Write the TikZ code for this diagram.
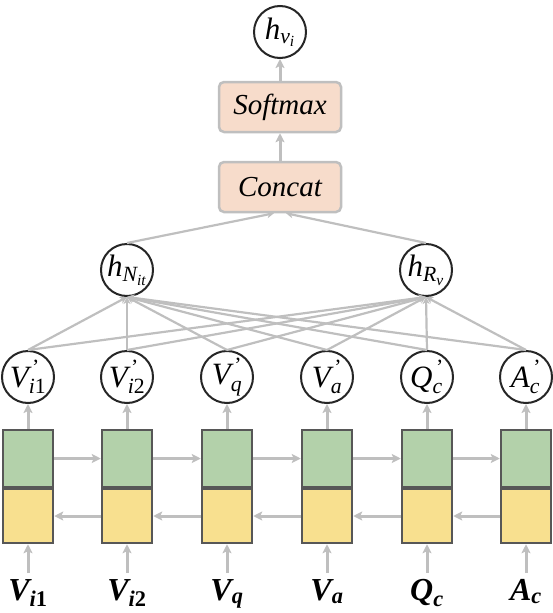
\documentclass[tikz,border=0pt]{standalone}
\usepackage{amsmath}
\usepackage{fontspec}
\setmainfont{Liberation Serif}
\usetikzlibrary{arrows.meta}
\definecolor{lgray}{HTML}{BFBFBF}
\definecolor{dgray}{HTML}{575757}
\definecolor{gfill}{HTML}{B3D1AA}
\definecolor{yfill}{HTML}{F8E08F}
\definecolor{pfill}{HTML}{F7DCCB}
\newcommand{\itt}[1]{\text{\itshape #1}}
\newcommand{\bi}[1]{\text{\bfseries\itshape #1}}
\newcommand{\bu}[1]{\text{\bfseries #1}}
\newcommand{\pr}{^{\,\text{'}}}
\begin{document}
\begin{tikzpicture}[x=1pt,y=-1pt,
  circ/.style={circle,draw=black!85,line width=2pt,minimum size=52pt,inner sep=0pt,fill=white,
    font=\fontsize{31}{33}\selectfont},
  gbox/.style={draw=dgray,line width=2.5pt,fill=gfill,minimum width=50pt,minimum height=57pt,inner sep=0pt},
  ybox/.style={draw=dgray,line width=2.5pt,fill=yfill,minimum width=50pt,minimum height=54pt,inner sep=0pt},
  opbox/.style={draw=lgray,line width=2.5pt,fill=pfill,rounded corners=5pt,minimum width=122pt,minimum height=50pt,inner sep=0pt,
    font=\fontsize{29}{31}\selectfont\itshape},
  arr/.style={draw=lgray,line width=3pt,-{Stealth[length=9pt,width=9pt,inset=2pt]}},
  thin arr/.style={draw=lgray,line width=2.2pt,-{Stealth[length=7pt,width=7pt,inset=2pt]}},
  lab/.style={font=\fontsize{32}{34}\selectfont,inner sep=0pt,anchor=base}
]
\useasboundingbox (0,0) rectangle (553,613);
% top
\node[circ] (o) at (280,32) {$\itt{h}_{\itt{v}_{\itt{i}}}$};
\node[opbox] (sm) at (280,107) {Softmax};
\node[opbox] (cc) at (280,187) {Concat};
\node[circ] (hN) at (127,270) {$\itt{h}_{\itt{N}_{\itt{it}}}$};
\node[circ] (hR) at (426,270) {$\itt{h}_{\itt{R}_{\itt{v}}}$};
% second layer circles
\node[circ] (c1) at (28,377) {$\itt{V}\pr_{\itt{i}\text{1}}$};
\node[circ] (c2) at (127,377) {$\itt{V}\pr_{\itt{i}\text{2}}$};
\node[circ] (c3) at (227,377) {$\itt{V}\pr_{\itt{q}}$};
\node[circ] (c4) at (327,377) {$\itt{V}\pr_{\itt{a}}$};
\node[circ] (c5) at (427,377) {$\itt{Q}\pr_{\itt{c}}$};
\node[circ] (c6) at (526,377) {$\itt{A}\pr_{\itt{c}}$};
% LSTM cells
\foreach \i/\x in {1/28,2/127,3/227,4/327,5/427,6/526}{
  \node[ybox] (y\i) at (\x,516) {};
  \node[gbox] (g\i) at (\x,458.5) {};
  \coordinate (in\i) at (\x,573);
  \draw[arr] (g\i.north) -- (c\i.south);
  \draw[arr] (in\i) -- (y\i.south);
}
\foreach \a/\b in {1/2,2/3,3/4,4/5,5/6}{
  \draw[arr] (g\a.east) -- (g\b.west);
  \draw[arr] (y\b.west) -- (y\a.east);
}
% input labels
\node[lab] (l1) at (28,600) {$\bi{V}_{\bi{i}\bu{1}}$};
\node[lab] (l2) at (127,600) {$\bi{V}_{\bi{i}\bu{2}}$};
\node[lab] (l3) at (227,600) {$\bi{V}_{\bi{q}}$};
\node[lab] (l4) at (327,600) {$\bi{V}_{\bi{a}}$};
\node[lab] (l5) at (427,600) {$\bi{Q}_{\bi{c}}$};
\node[lab] (l6) at (526,600) {$\bi{A}_{\bi{c}}$};
% attention connections
\foreach \i in {1,...,6}{
  \draw[thin arr] (c\i.north) -- (hN.south);
  \draw[thin arr] (c\i.north) -- (hR.south);
}
\draw[thin arr] (hN.north) -- ([xshift=-6pt]cc.south);
\draw[thin arr] (hR.north) -- ([xshift=6pt]cc.south);
\draw[arr] (cc.north) -- (sm.south);
\draw[arr] (sm.north) -- (o.south);
\end{tikzpicture}
\end{document}
